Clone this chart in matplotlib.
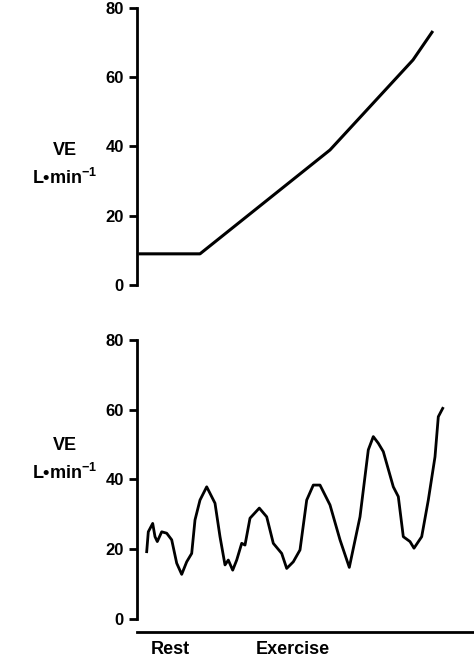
import matplotlib
matplotlib.use("Agg")
import matplotlib.pyplot as plt
plt.rcParams['font.family'] = ['Liberation Sans', 'DejaVu Sans']
plt.rcParams['mathtext.fontset'] = 'custom'
plt.rcParams['mathtext.bf'] = 'Liberation Sans:bold'

top_x = [140, 200, 330, 413, 432]
top_y = [9, 9, 39, 65, 73]

bot_x = [146.7,148.3,152.7,155,157.3,161.7,166.7,171.7,176.7,181.7,186.7,191.7,195,200,206.7,215,220,225,228.3,232.7,236.7,241.7,245,250,259.3,266.7,273.3,281.7,286.7,293.3,300,306.7,313.3,320,330,340,349.3,360,368.3,373.3,378.3,383.3,393.3,398.3,403.3,410,414,421.7,428.3,435,438.3,442.7]
bot_y = [19.3,25.0,27.4,23.6,22.2,25.0,24.6,22.7,16.0,12.8,16.4,18.8,28.4,34.1,37.9,33.2,23.6,15.5,16.9,14.0,16.9,21.7,21.2,28.9,31.8,29.3,21.7,18.8,14.5,16.4,19.8,34.1,38.4,38.4,32.7,22.7,14.8,29.3,48.5,52.3,50.4,48.0,37.9,35.1,23.6,22.2,20.3,23.6,34.1,46.5,58.0,60.4]
yticks = [0, 20, 40, 60, 80]
ylabel = "VE\nL\u2022min$^{\\mathbf{-1}}$"

fig = plt.figure(figsize=(4.74, 6.58), dpi=100)
W, H = 474, 658
ax1 = fig.add_axes([137/W, 1-285/H, 1-137/W, 277/H])
ax2 = fig.add_axes([137/W, 1-632/H, 1-137/W, 292/H])

for ax in (ax1, ax2):
    ax.set_xlim(137, 474)
    ax.spines['top'].set_visible(False)
    ax.spines['right'].set_visible(False)
    ax.spines['left'].set_linewidth(2)
    ax.set_xticks([])
    ax.set_yticks(yticks)
    ax.tick_params(axis='y', width=2, length=6, labelsize=12)
    for l in ax.get_yticklabels():
        l.set_fontweight('bold')

ax1.set_ylim(0, 80)
ax1.spines['bottom'].set_visible(False)
ax1.plot(top_x, top_y, color='black', lw=2.2)

ax2.set_ylim(-3.73, 80)
ax2.spines['left'].set_bounds(0, 80)
ax2.spines['bottom'].set_linewidth(2)
ax2.plot(bot_x, bot_y, color='black', lw=2)

fig.text(65/W, 1-165/H, ylabel, ha='center', va='center', fontsize=13, fontweight='bold', linespacing=1.6)
fig.text(65/W, 1-460/H, ylabel, ha='center', va='center', fontsize=13, fontweight='bold', linespacing=1.6)
fig.text(170/W, 1-650/H, "Rest", ha='center', va='center', fontsize=13, fontweight='bold')
fig.text(293/W, 1-650/H, "Exercise", ha='center', va='center', fontsize=13, fontweight='bold')

fig.savefig("out.png", dpi=100)
